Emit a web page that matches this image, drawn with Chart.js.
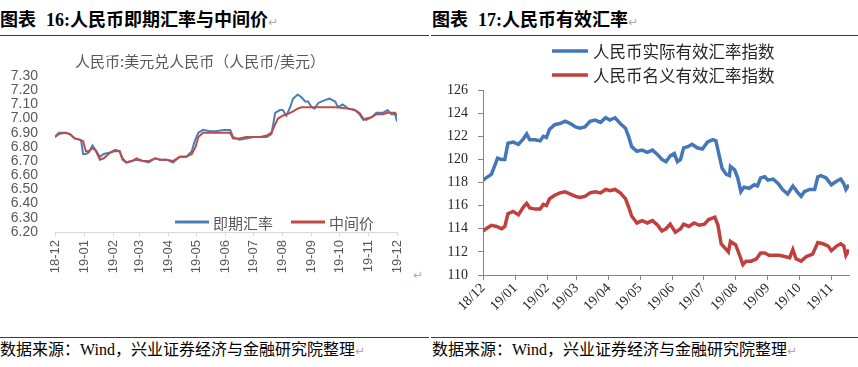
<!DOCTYPE html>
<html>
<head>
<meta charset="utf-8">
<script src="https://cdn.jsdelivr.net/npm/chart.js@4.4.1/dist/chart.umd.min.js"></script>
<style>
  body { margin: 0; width: 858px; height: 367px; background: #fff; position: relative; overflow: hidden;
         font-family: "Noto Sans CJK SC", sans-serif; }
  .title { position: absolute; top: 6px; font-size: 18px; font-weight: bold; color: #000; line-height: 24px; white-space: nowrap; }
  .title .n { font-family: "Liberation Serif", serif; margin-left: 10px; }
  .ret { color: #aaa; font-weight: normal; font-size: 12px; font-family: "DejaVu Sans", sans-serif; }
  .rule { position: absolute; height: 1px; background: #3a3a3a; }
  .src { position: absolute; top: 337px; font-size: 16px; line-height: 22px; color: #000; white-space: nowrap; }
  .src .w { font-family: "Liberation Serif", serif; }
  canvas { position: absolute; }
</style>
</head>
<body>
<div class="title" style="left:0">图表<span class="n">16:</span>人民币即期汇率与中间价<span class="ret">↵</span></div>
<div class="title" style="left:432px">图表<span class="n">17:</span>人民币有效汇率<span class="ret">↵</span></div>
<div class="rule" style="left:0;top:35px;width:429px"></div>
<div class="rule" style="left:431px;top:35px;width:427px"></div>
<div class="rule" style="left:0;top:337px;width:429px"></div>
<div class="rule" style="left:431px;top:337px;width:427px"></div>
<div class="src" style="left:0">数据来源：<span class="w">Wind</span>，兴业证券经济与金融研究院整理<span class="ret">↵</span></div>
<div class="src" style="left:432px">数据来源：<span class="w">Wind</span>，兴业证券经济与金融研究院整理<span class="ret">↵</span></div>
<div class="ret" style="position:absolute;left:413px;top:268px">↵</div>

<canvas id="left" width="430" height="290" style="left:0;top:40px"></canvas>
<canvas id="right" width="426" height="290" style="left:432px;top:40px"></canvas>

<script>
// Chart 16: USD/CNY spot and central parity, x = days since 2018-12-01
const monthLabelsL = ['18-12','19-01','19-02','19-03','19-04','19-05','19-06','19-07','19-08','19-09','19-10','19-11','19-12'];
const monthDaysL = [0,31,62,90,121,151,182,212,243,274,304,335,365];

const spotDays = [0,4,11,16,21,27,28,30,33,36,40,43,48,52,59,64,69,72,76,82,87,94,100,107,112,119,126,133,140,146,
  149,153,158,165,172,180,187,190,197,204,212,219,226,231,235,240,243,247,251,254,259,263,267,270,274,277,281,288,293,299,
  302,307,313,320,325,329,332,338,343,350,355,359,363,365];
const spotVals = [6.87,6.90,6.90,6.89,6.86,6.85,6.84,6.75,6.75,6.76,6.81,6.78,6.73,6.75,6.76,6.78,6.77,6.71,6.69,6.70,
  6.71,6.70,6.69,6.72,6.71,6.71,6.69,6.73,6.73,6.77,6.84,6.90,6.92,6.91,6.91,6.92,6.92,6.87,6.85,6.86,
  6.87,6.87,6.87,6.89,7.04,7.06,7.06,7.02,7.08,7.14,7.17,7.15,7.12,7.12,7.08,7.07,7.11,7.13,7.14,7.12,
  7.08,7.10,7.07,7.06,7.03,6.99,7.00,7.01,7.04,7.04,7.06,7.03,7.03,6.98];

const midDays = [0,4,11,16,21,27,30,33,36,40,43,48,52,59,64,69,72,76,82,87,94,100,107,112,119,126,133,140,146,150,
  153,158,165,172,180,187,190,197,204,212,219,226,231,235,238,243,247,251,254,259,263,280,300,313,320,325,329,332,338,343,
  350,355,359,363,365];
const midVals = [6.87,6.89,6.90,6.89,6.86,6.85,6.84,6.77,6.77,6.79,6.78,6.71,6.72,6.76,6.77,6.77,6.72,6.69,6.70,6.72,
  6.70,6.70,6.72,6.71,6.71,6.70,6.73,6.73,6.75,6.80,6.87,6.90,6.90,6.90,6.90,6.90,6.86,6.86,6.87,6.87,
  6.87,6.88,6.90,6.96,7.00,7.02,7.03,7.04,7.05,7.07,7.08,7.08,7.08,7.07,7.06,7.04,7.00,6.99,7.01,7.03,
  7.03,7.04,7.04,7.04,7.02];

// Chart 17: CFETS real / nominal effective exchange rate indices
const monthLabelsR = ['18/12','19/01','19/02','19/03','19/04','19/05','19/06','19/07','19/08','19/09','19/10','19/11'];
const monthDaysR = [0,31,62,90,121,151,182,212,243,274,304,335];

const reerDays = [0,3,8,11,14,18,21,24,29,34,39,42,45,50,55,58,61,64,69,74,79,84,89,93,98,103,108,113,118,122,
  127,132,137,140,143,148,153,158,163,168,172,176,180,184,187,190,193,197,201,206,211,216,221,224,226,230,234,237,238,242,
  245,248,251,256,261,264,267,271,274,279,284,288,293,298,303,306,309,314,319,322,325,330,335,340,344,347,349,352];
const reerVals = [118.2,118.4,118.7,119.4,120.1,120.0,120.0,121.4,121.5,121.3,121.8,122.2,121.7,121.7,121.6,122.0,121.9,122.6,123.0,123.1,
  123.3,123.1,122.8,122.7,122.8,123.3,123.4,123.2,123.6,123.4,123.6,123.1,122.7,122.0,121.1,120.7,120.8,120.6,120.8,120.4,
  120.0,119.8,120.3,120.5,119.8,120.0,121.0,121.1,121.3,121.0,120.9,121.5,121.7,121.6,120.8,119.2,118.7,118.6,119.4,119.1,
  118.4,117.2,117.6,117.5,117.8,117.7,118.4,118.5,118.2,118.3,117.9,117.4,117.0,117.7,117.1,116.8,117.2,117.4,117.4,118.5,
  118.6,118.4,117.8,118.1,118.3,117.9,117.4,117.8];

const neerDays = [0,3,8,13,18,21,24,29,34,39,42,45,50,55,58,61,64,69,74,79,84,89,93,98,103,108,113,118,122,127,
  132,137,140,143,148,153,158,163,168,172,176,180,185,190,193,198,203,208,213,217,223,226,229,234,236,238,243,246,250,253,
  258,263,267,271,275,280,285,290,295,298,301,306,311,317,322,327,332,335,340,344,347,349,352];
const neerVals = [113.8,114.0,114.3,114.2,114.0,114.2,115.3,115.5,115.2,115.9,116.2,115.8,115.7,115.7,116.1,116.0,116.6,116.9,117.1,117.2,
  117.0,116.8,116.7,116.8,117.1,117.2,117.1,117.4,117.3,117.4,117.1,116.6,115.9,115.1,114.5,114.7,114.5,114.7,114.3,113.8,
  114.0,114.4,113.7,114.0,114.4,114.2,114.5,114.3,114.4,114.8,115.0,114.3,112.7,112.2,112.0,112.9,112.6,111.9,110.9,111.2,
  111.2,111.4,111.9,111.9,111.7,111.7,111.7,111.6,111.5,112.2,111.4,111.2,111.6,111.8,112.8,112.7,112.5,112.1,112.5,112.7,
  112.5,111.7,112.2];

const toPoints = (days, vals) => days.map((d, i) => ({x: d, y: vals[i]}));

// draws the line keys and the small caption text
const overlay = {
  id: 'overlay',
  afterDraw(chart, args, opts) {
    const ctx = chart.ctx;
    ctx.save();
    ctx.textBaseline = 'middle';
    ctx.textAlign = 'left';
    ctx.font = opts.font;
    ctx.fillStyle = opts.color;
    (opts.texts || []).forEach(t => ctx.fillText(t.text, t.x, t.y));
    (opts.keys || []).forEach(k => {
      const ds = chart.data.datasets[k.ds];
      ctx.strokeStyle = ds.borderColor;
      ctx.lineWidth = opts.keyWidth;
      ctx.beginPath();
      ctx.moveTo(k.x, k.y);
      ctx.lineTo(k.x + opts.keyLen, k.y);
      ctx.stroke();
      ctx.fillText(ds.label, k.x + opts.keyLen + opts.gap, k.y + 1);
    });
    ctx.restore();
  }
};

const monthTicks = (days) => (scale) => { scale.ticks = days.map(v => ({value: v})); };

new Chart(document.getElementById('left'), {
  type: 'line',
  data: {
    datasets: [
      { label: '即期汇率', data: toPoints(spotDays, spotVals), borderColor: '#4A7EBB', borderWidth: 2, order: 1 },
      { label: '中间价', data: toPoints(midDays, midVals), borderColor: '#BE4B48', borderWidth: 2, order: 0 }
    ]
  },
  options: {
    responsive: false,
    animation: false,
    pointRadius: 0,
    layout: { padding: { top: 36, right: 33, left: 0, bottom: 0 } },
    plugins: {
      legend: { display: false },
      tooltip: { enabled: false },
      overlay: {
        font: '15px "Noto Sans CJK SC"', color: '#595959', keyLen: 34, keyWidth: 3, gap: 4,
        texts: [{ text: '人民币:美元兑人民币（人民币/美元）', x: 75, y: 21 }],
        keys: [{ ds: 0, x: 175, y: 182 }, { ds: 1, x: 291, y: 182 }]
      }
    },
    scales: {
      x: {
        type: 'linear', min: 0, max: 365,
        afterBuildTicks: monthTicks(monthDaysL),
        afterFit: s => { s.height = 98; },
        ticks: {
          autoSkip: false, minRotation: 90, maxRotation: 90, padding: 4,
          color: '#595959', font: { family: 'Liberation Sans', size: 13 },
          callback: (v, i) => monthLabelsL[i]
        },
        grid: { drawOnChartArea: false, drawTicks: true, tickLength: 4, color: '#D9D9D9' },
        border: { display: true, color: '#D9D9D9' }
      },
      y: {
        min: 6.2, max: 7.3,
        afterFit: s => { s.width = 55; },
        ticks: {
          stepSize: 0.1, autoSkip: false, padding: 17, color: '#595959',
          font: { family: 'Liberation Sans', size: 14 },
          callback: v => v.toFixed(2)
        },
        grid: { display: false, drawTicks: false },
        border: { display: false }
      }
    }
  },
  plugins: [overlay]
});

new Chart(document.getElementById('right'), {
  type: 'line',
  data: {
    datasets: [
      { label: '人民币实际有效汇率指数', data: toPoints(reerDays, reerVals), borderColor: '#4577B8', borderWidth: 3.5 },
      { label: '人民币名义有效汇率指数', data: toPoints(neerDays, neerVals), borderColor: '#C0403E', borderWidth: 3.5 }
    ]
  },
  options: {
    responsive: false,
    animation: false,
    pointRadius: 0,
    layout: { padding: { top: 50, right: 9, left: 0, bottom: 0 } },
    plugins: {
      legend: { display: false },
      tooltip: { enabled: false },
      overlay: {
        font: '16.5px "Noto Sans CJK SC"', color: '#262626', keyLen: 36, keyWidth: 3.5, gap: 5,
        keys: [{ ds: 0, x: 120, y: 11 }, { ds: 1, x: 120, y: 35 }]
      }
    },
    scales: {
      x: {
        type: 'linear', min: 0, max: 352,
        afterBuildTicks: monthTicks(monthDaysR),
        afterFit: s => { s.height = 55; },
        ticks: {
          autoSkip: false, minRotation: 45, maxRotation: 45, padding: 0,
          color: '#262626', font: { family: 'Liberation Serif', size: 14 },
          callback: (v, i) => monthLabelsR[i]
        },
        grid: { drawOnChartArea: false, drawTicks: true, tickLength: 5, color: '#868686' },
        border: { display: true, color: '#868686' }
      },
      y: {
        min: 110, max: 126,
        afterFit: s => { s.width = 51; },
        ticks: { stepSize: 2, autoSkip: false, padding: 10, color: '#262626', font: { family: 'Liberation Serif', size: 14 } },
        grid: { drawOnChartArea: false, drawTicks: true, tickLength: 5, color: '#868686' },
        border: { display: true, color: '#868686' }
      }
    }
  },
  plugins: [overlay]
});
</script>
</body>
</html>
